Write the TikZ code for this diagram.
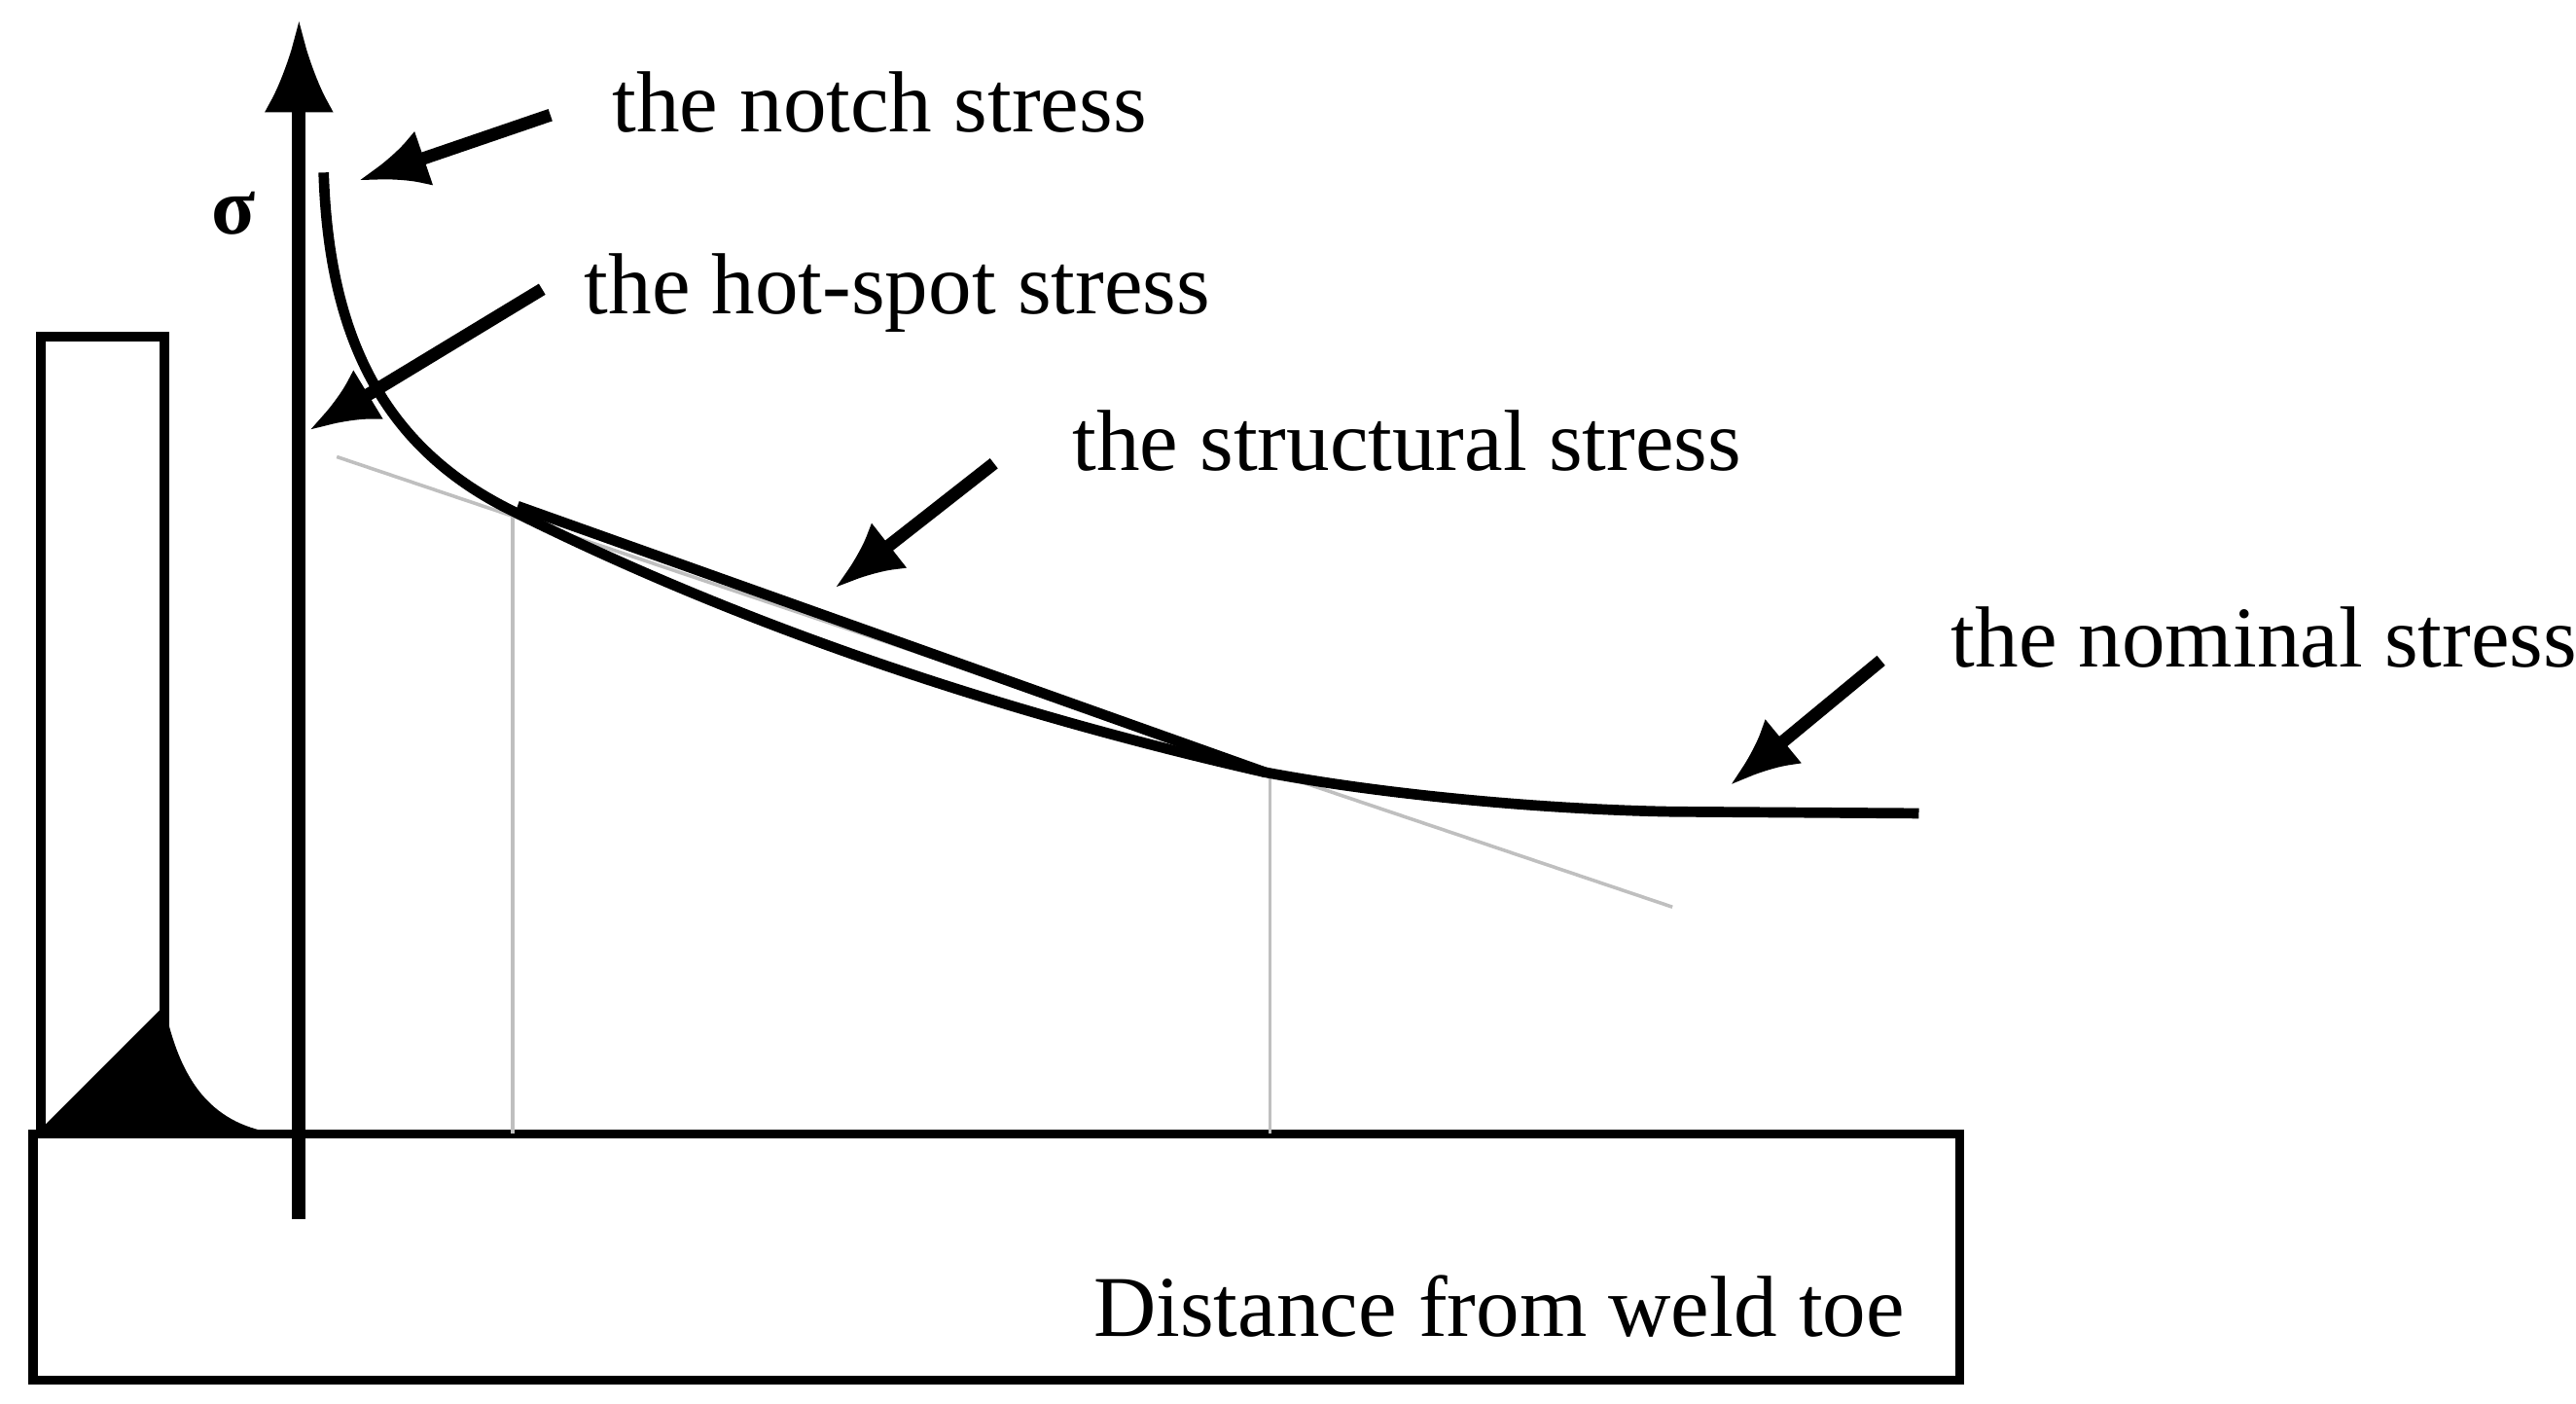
\documentclass[tikz,border=0pt]{standalone}
\usepackage{fontspec}
\setmainfont{Liberation Serif}
\usetikzlibrary{arrows.meta}
\begin{document}
\begin{tikzpicture}[x=0.01cm,y=-0.01cm,
  lbl/.style={anchor=west,font=\fontsize{15}{18}\selectfont,inner sep=0},
  pointer/.style={line width=2.2pt,-{Latex[length=12pt,width=10pt]}},
  thin/.style={draw=gray!50,line width=0.6pt}]
\useasboundingbox (0,0) rectangle (1568,854);
\draw[line width=1.6pt] (25,690) rectangle (100,205);
\draw[line width=1.6pt] (20,690) rectangle (1193,840);
\fill (22,690) -- (100,612) .. controls (110,660) and (130,685) .. (170,690) -- cycle;
\draw[line width=2.4pt,-{Latex[length=16pt,width=12pt]}] (182,742) -- (182,12);
\node (sig) at (142,130) {\fontsize{14}{16}\selectfont\bfseries σ};
\draw[thin] (205,278) -- (1018,552);
\draw[thin] (312,310) -- (312,690);
\draw[thin] (773,470) -- (773,690);
\draw[line width=1.8pt] (197,105) .. controls (200,200) and (230,270) .. (310,310)
  .. controls (400,355) and (550,420) .. (770,470)
  .. controls (850,485) and (950,493) .. (1020,494) -- (1168,495);
\draw[line width=1.8pt] (315,308) -- (770,470);
\node[lbl] (n1) at (372,62) {the notch stress};
\node[lbl] (n2) at (355,178) {the hot-spot stress};
\node[lbl] (n3) at (652,268) {the structural stress};
\node[lbl] (n4) at (1187,388) {the nominal stress};
\node[lbl] (n5) at (665,795) {Distance from weld toe};
\coordinate (a1) at (335,70); \coordinate (b1) at (218,110);
\coordinate (a2) at (330,176); \coordinate (b2) at (188,262);
\coordinate (a3) at (605,282); \coordinate (b3) at (508,358);
\coordinate (a4) at (1145,402); \coordinate (b4) at (1053,478);
\draw[pointer] (a1) -- (b1);
\draw[pointer] (a2) -- (b2);
\draw[pointer] (a3) -- (b3);
\draw[pointer] (a4) -- (b4);
\end{tikzpicture}
\end{document}
